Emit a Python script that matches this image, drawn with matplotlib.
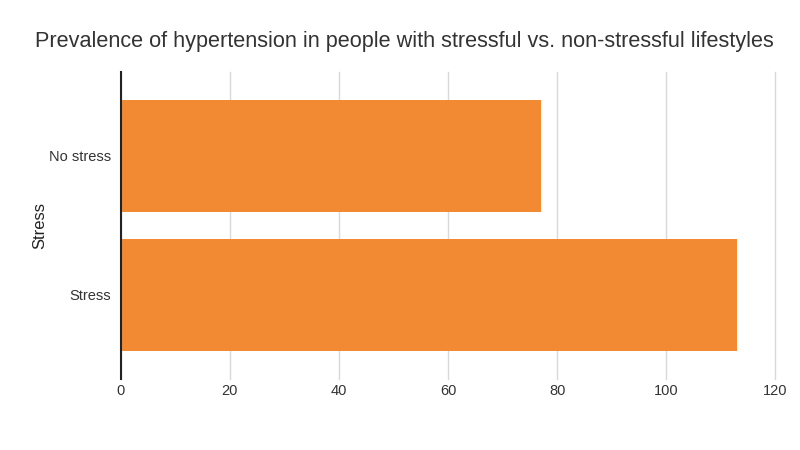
import matplotlib.pyplot as plt

plt.rcParams['font.family'] = ['Liberation Sans', 'DejaVu Sans']

# Data
categories = ['Stress', 'No stress']
values = [113, 77]
x_ticks = [0, 20, 40, 60, 80, 100, 120]

fig = plt.figure(figsize=(8, 4.5), dpi=100)
ax = fig.add_axes([0.151, 0.158, 0.818, 0.682])

ax.barh(categories, values, height=0.8, color='#F28933', zorder=2)

ax.set_xlim(0, 120)
ax.set_ylim(-0.604, 1.604)
ax.set_xticks(x_ticks)
ax.xaxis.grid(True, color='#d9d9d9', linewidth=1, zorder=0)
for gl in ax.get_xgridlines():
    gl.set_clip_on(False)
ax.tick_params(axis='both', length=0, labelsize=10.5, colors='#333333')
ax.tick_params(axis='y', pad=7)
ax.tick_params(axis='x', pad=4)

for s in ['top', 'right', 'bottom']:
    ax.spines[s].set_visible(False)
ax.spines['left'].set_color('#222222')
ax.spines['left'].set_linewidth(1.5)
ax.spines['left'].set_zorder(3)

ax.set_ylabel('Stress', fontsize=12, color='#222222', labelpad=1)
fig.text(0.505, 0.908, 'Prevalence of hypertension in people with stressful vs. non-stressful lifestyles',
         ha='center', va='center', fontsize=15.6, color='#333333')

fig.savefig('out.png', dpi=100)
